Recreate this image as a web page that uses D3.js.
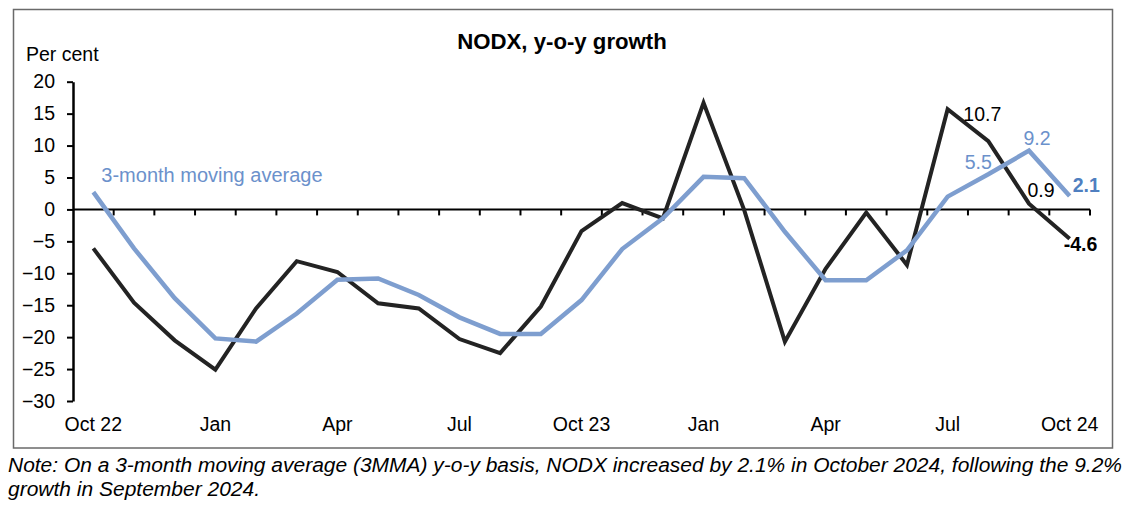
<!DOCTYPE html>
<html>
<head>
<meta charset="utf-8">
<script src="https://cdn.jsdelivr.net/npm/d3@7"></script>
<style>
  body { margin: 0; background: #fff; }
  svg { display: block; font-family: "Liberation Sans", Arial, sans-serif; }
</style>
</head>
<body>
<div id="chart"></div>
<script>
// months Oct 22 .. Oct 24
var months = ["2022-10","2022-11","2022-12","2023-01","2023-02","2023-03","2023-04","2023-05","2023-06",
  "2023-07","2023-08","2023-09","2023-10","2023-11","2023-12","2024-01","2024-02","2024-03","2024-04",
  "2024-05","2024-06","2024-07","2024-08","2024-09","2024-10"];
var tickLabels = {"2022-10":"Oct 22","2023-01":"Jan","2023-04":"Apr","2023-07":"Jul","2023-10":"Oct 23",
  "2024-01":"Jan","2024-04":"Apr","2024-07":"Jul","2024-10":"Oct 24"};
var nodx = [-6.1,-14.6,-20.5,-25.1,-15.5,-8.1,-9.8,-14.7,-15.5,-20.3,-22.5,-15.2,-3.4,1.0,-1.4,
  16.7,-0.1,-20.7,-9.3,-0.5,-8.7,15.7,10.7,0.9,-4.6];
var mma3 = [2.7,-6.1,-13.9,-20.2,-20.7,-16.3,-11.0,-10.8,-13.4,-16.9,-19.5,-19.5,-14.2,-6.2,-1.4,
  5.1,4.9,-3.5,-11.1,-11.1,-6.4,2.0,5.5,9.2,2.1];
var yTicks = [20,15,10,5,0,-5,-10,-15,-20,-25,-30];

var W = 1135, H = 516;
var black = "#232323", blue = "#7e9ecf", blueText = "#6b91cb", blueBold = "#4f7fc0";

var svg = d3.select("#chart").append("svg").attr("width", W).attr("height", H);

// frame
svg.append("rect").attr("x", 13.5).attr("y", 9.5).attr("width", 1099).attr("height", 438.5)
  .attr("fill", "none").attr("stroke", "#6a6a6a").attr("stroke-width", 1.5);

var x = d3.scaleBand().domain(months).range([73, 1090]).padding(0);
var y = d3.scaleLinear().domain([-30, 20]).range([401, 81.7]);
var cx = function(m){ return x(m) + x.bandwidth() / 2; };

// title
svg.append("text").attr("x", 562).attr("y", 49).attr("text-anchor", "middle")
  .attr("font-size", 22.2).attr("font-weight", "bold").attr("fill", "#000").text("NODX, y-o-y growth");
svg.append("text").attr("x", 26).attr("y", 61).attr("font-size", 19.5).attr("fill", "#000").text("Per cent");

// y axis
var yAxis = svg.append("g").attr("transform", "translate(73,0)")
  .call(d3.axisLeft(y).tickValues(yTicks).tickSize(6).tickSizeOuter(0).tickPadding(12));
yAxis.select(".domain").attr("stroke", "#000").attr("stroke-width", 2.5);
yAxis.selectAll(".tick line").attr("stroke", "#000").attr("stroke-width", 2);
yAxis.selectAll(".tick text").attr("font-size", 19.5).attr("font-family", "Liberation Sans, Arial, sans-serif").attr("fill", "#000");

// zero line with month ticks
var y0 = y(0);
svg.append("line").attr("x1", 73).attr("x2", x.range()[1]).attr("y1", y0).attr("y2", y0)
  .attr("stroke", "#000").attr("stroke-width", 2);
var bounds = months.slice(1).map(function(m){ return x(m); }).concat([x.range()[1]]);
svg.selectAll(".mtick").data(bounds).enter().append("line")
  .attr("x1", function(d){ return d; }).attr("x2", function(d){ return d; })
  .attr("y1", y0).attr("y2", y0 + 6).attr("stroke", "#000").attr("stroke-width", 2);

// x labels at bottom
var xAxis = svg.append("g").attr("transform", "translate(0," + y(-30) + ")")
  .call(d3.axisBottom(x).tickValues(Object.keys(tickLabels)).tickFormat(function(d){ return tickLabels[d]; })
    .tickSize(0).tickPadding(16));
xAxis.select(".domain").remove();
xAxis.selectAll(".tick text").attr("font-size", 19.5).attr("font-family", "Liberation Sans, Arial, sans-serif").attr("fill", "#000");

// lines
var line = function(vals){
  return d3.line().x(function(d, i){ return cx(months[i]); }).y(function(d){ return y(d); })(vals);
};
svg.append("path").attr("d", line(nodx)).attr("fill", "none").attr("stroke", black)
  .attr("stroke-width", 4).attr("stroke-linejoin", "miter");
svg.append("path").attr("d", line(mma3)).attr("fill", "none").attr("stroke", blue)
  .attr("stroke-width", 4.5).attr("stroke-linejoin", "miter");

// labels
svg.append("text").attr("x", cx(months[0]) + 8).attr("y", y(0) - 27).attr("font-size", 20)
  .attr("fill", blueText).text("3-month moving average");

function lab(i, vals, txt, dx, dy, col, bold, anchor){
  svg.append("text").attr("x", cx(months[i]) + dx).attr("y", y(vals[i]) + dy)
    .attr("text-anchor", anchor || "middle").attr("font-size", 19.5)
    .attr("font-weight", bold ? "bold" : "normal").attr("fill", col).text(txt);
}
lab(22, nodx, "10.7", -6, -20, "#000");
lab(23, nodx, "0.9", 12, -7, "#000");
lab(24, nodx, "-4.6", -6, 12, "#000", true, "start");
lab(22, mma3, "5.5", -10, -5, blueText);
lab(23, mma3, "9.2", 8, -6, blueText);
lab(24, mma3, "2.1", 3, -4, blueBold, true, "start");

// note
var note = svg.append("text").attr("font-size", 19.5).attr("font-style", "italic").attr("fill", "#000");
note.append("tspan").attr("x", 8).attr("y", 472).attr("textLength", 1114).attr("lengthAdjust", "spacingAndGlyphs")
  .text("Note: On a 3-month moving average (3MMA) y-o-y basis, NODX increased by 2.1% in October 2024, following the 9.2%");
note.append("tspan").attr("x", 8).attr("y", 496).attr("textLength", 252).attr("lengthAdjust", "spacingAndGlyphs")
  .text("growth in September 2024.");
</script>
</body>
</html>
